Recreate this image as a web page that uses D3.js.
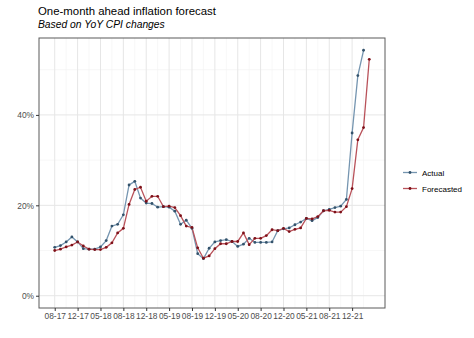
<!DOCTYPE html>
<html>
<head>
<meta charset="utf-8">
<script src="https://cdn.jsdelivr.net/npm/d3@7"></script>
<style>
  html, body { margin: 0; padding: 0; background: #fff; }
  svg { display: block; font-family: "Liberation Sans", Arial, Helvetica, sans-serif; }
</style>
</head>
<body>
<svg id="chart" width="474" height="338"></svg>
<script>
// Year-on-year CPI inflation (%), monthly observations
const actual = [
  10.7, 11.1, 11.9, 13.0, 11.9, 10.4, 10.3, 10.3, 10.8, 12.2,
  15.4, 15.8, 17.9, 24.5, 25.3, 21.6, 20.5, 20.4, 19.6, 19.7,
  19.6, 18.7, 15.8, 16.7, 14.9, 9.3, 8.2, 10.5, 11.9, 12.2,
  12.4, 12.0, 10.9, 11.4, 12.7, 11.8, 11.8, 11.8, 11.9, 14.4,
  14.8, 15.0, 15.7, 16.3, 17.1, 16.6, 17.3, 18.8, 19.1, 19.5,
  19.8, 21.3, 36.0, 48.7, 54.3
];
// One-month ahead forecasts (one extra period beyond the latest actual)
const forecasted = [
  10.0, 10.3, 10.8, 11.2, 11.9, 11.0, 10.3, 10.2, 10.2, 10.7,
  11.7, 13.9, 14.9, 20.2, 23.5, 24.0, 20.9, 22.0, 22.0, 19.7,
  19.8, 19.5, 17.7, 15.4, 15.1, 10.6, 8.3, 8.8, 10.4, 11.5,
  11.5, 12.0, 12.0, 13.9, 11.3, 12.7, 12.7, 13.3, 14.6, 14.4,
  14.9, 14.2, 14.7, 15.0, 17.1, 17.0, 17.5, 18.8, 18.9, 18.5,
  18.5, 19.7, 23.7, 34.5, 37.2, 52.3
];
// Tick labels, one every fourth period
const xTickLabels = ["08-17", "12-17", "05-18", "08-18", "12-18", "05-19", "08-19",
                     "12-19", "05-20", "08-20", "12-20", "05-21", "08-21", "12-21"];
const yTicks = [0, 20, 40];
const yMinor = [10, 30, 50];

const seriesNames = ["Actual", "Forecasted"];
const lineColors = { Actual: "#7595b0", Forecasted: "#b9525a" };
const pointColors = { Actual: "#33526b", Forecasted: "#7d1018" };

const svg = d3.select("#chart");
const panel = { left: 39, right: 385, top: 38, bottom: 308 };

const nMax = Math.max(actual.length, forecasted.length) - 1;
const xPad = nMax * 0.05;
const x = d3.scaleLinear().domain([-xPad, nMax + xPad]).range([panel.left, panel.right]);

const yMaxData = d3.max(actual.concat(forecasted));
const yPad = yMaxData * 0.05;
const y = d3.scaleLinear().domain([-yPad, yMaxData + yPad]).range([panel.bottom, panel.top]);

const xMajor = xTickLabels.map((_, i) => i * 4);
const xMinorTicks = xMajor.map(v => v + 2);

// Grid
const grid = svg.append("g");
grid.selectAll("line.ymin").data(yMinor).join("line")
  .attr("x1", panel.left).attr("x2", panel.right)
  .attr("y1", d => y(d)).attr("y2", d => y(d))
  .attr("stroke", "#f2f2f2").attr("stroke-width", 0.6);
grid.selectAll("line.xmin").data(xMinorTicks).join("line")
  .attr("y1", panel.top).attr("y2", panel.bottom)
  .attr("x1", d => x(d)).attr("x2", d => x(d))
  .attr("stroke", "#f2f2f2").attr("stroke-width", 0.6);
grid.selectAll("line.ymaj").data(yTicks).join("line")
  .attr("x1", panel.left).attr("x2", panel.right)
  .attr("y1", d => y(d)).attr("y2", d => y(d))
  .attr("stroke", "#e6e6e6").attr("stroke-width", 1);
grid.selectAll("line.xmaj").data(xMajor).join("line")
  .attr("y1", panel.top).attr("y2", panel.bottom)
  .attr("x1", d => x(d)).attr("x2", d => x(d))
  .attr("stroke", "#e6e6e6").attr("stroke-width", 1);

// Series
const series = [
  { name: "Actual", values: actual },
  { name: "Forecasted", values: forecasted }
];
const line = d3.line().x((d, i) => x(i)).y(d => y(d));
const marks = svg.append("g");
series.forEach(s => {
  marks.append("path")
    .datum(s.values)
    .attr("fill", "none")
    .attr("stroke", lineColors[s.name])
    .attr("stroke-width", 1.3)
    .attr("d", line);
});
series.forEach(s => {
  marks.selectAll(null).data(s.values).join("circle")
    .attr("cx", (d, i) => x(i))
    .attr("cy", d => y(d))
    .attr("r", 1.4)
    .attr("fill", pointColors[s.name]);
});

// Panel border
svg.append("rect")
  .attr("x", panel.left).attr("y", panel.top)
  .attr("width", panel.right - panel.left).attr("height", panel.bottom - panel.top)
  .attr("fill", "none").attr("stroke", "#5a5a5a").attr("stroke-width", 1);

// Axes
const xAxis = d3.axisBottom(x).tickValues(xMajor)
  .tickFormat((d, i) => xTickLabels[i]).tickSize(3).tickPadding(2);
const gx = svg.append("g").attr("transform", `translate(0,${panel.bottom})`).call(xAxis);
const yAxis = d3.axisLeft(y).tickValues(yTicks).tickFormat(d => d + "%").tickSize(3).tickPadding(2);
const gy = svg.append("g").attr("transform", `translate(${panel.left},0)`).call(yAxis);
[gx, gy].forEach(g => {
  g.select(".domain").remove();
  g.selectAll(".tick line").attr("stroke", "#333").attr("stroke-width", 1);
  g.selectAll(".tick text").attr("fill", "#4d4d4d")
    .style("font-size", "8.4px").style("font-family", "Liberation Sans, Arial, sans-serif");
});

// Titles
svg.append("text").attr("x", 38).attr("y", 14.5)
  .style("font-size", "11.4px").attr("fill", "#000")
  .text("One-month ahead inflation forecast");
svg.append("text").attr("x", 38).attr("y", 27.5)
  .style("font-size", "10.3px").style("font-style", "italic").attr("fill", "#000")
  .text("Based on YoY CPI changes");

// Legend
const legend = svg.append("g").attr("transform", "translate(403,172.5)");
seriesNames.forEach((name, i) => {
  const g = legend.append("g").attr("transform", `translate(0,${i * 16})`);
  g.append("line").attr("x1", 0).attr("x2", 14).attr("y1", 0).attr("y2", 0)
    .attr("stroke", lineColors[name]).attr("stroke-width", 1.3);
  g.append("circle").attr("cx", 7).attr("cy", 0).attr("r", 1.4).attr("fill", pointColors[name]);
  g.append("text").attr("x", 19).attr("y", 3)
    .style("font-size", "8px").attr("fill", "#000").text(name);
});
</script>
</body>
</html>
